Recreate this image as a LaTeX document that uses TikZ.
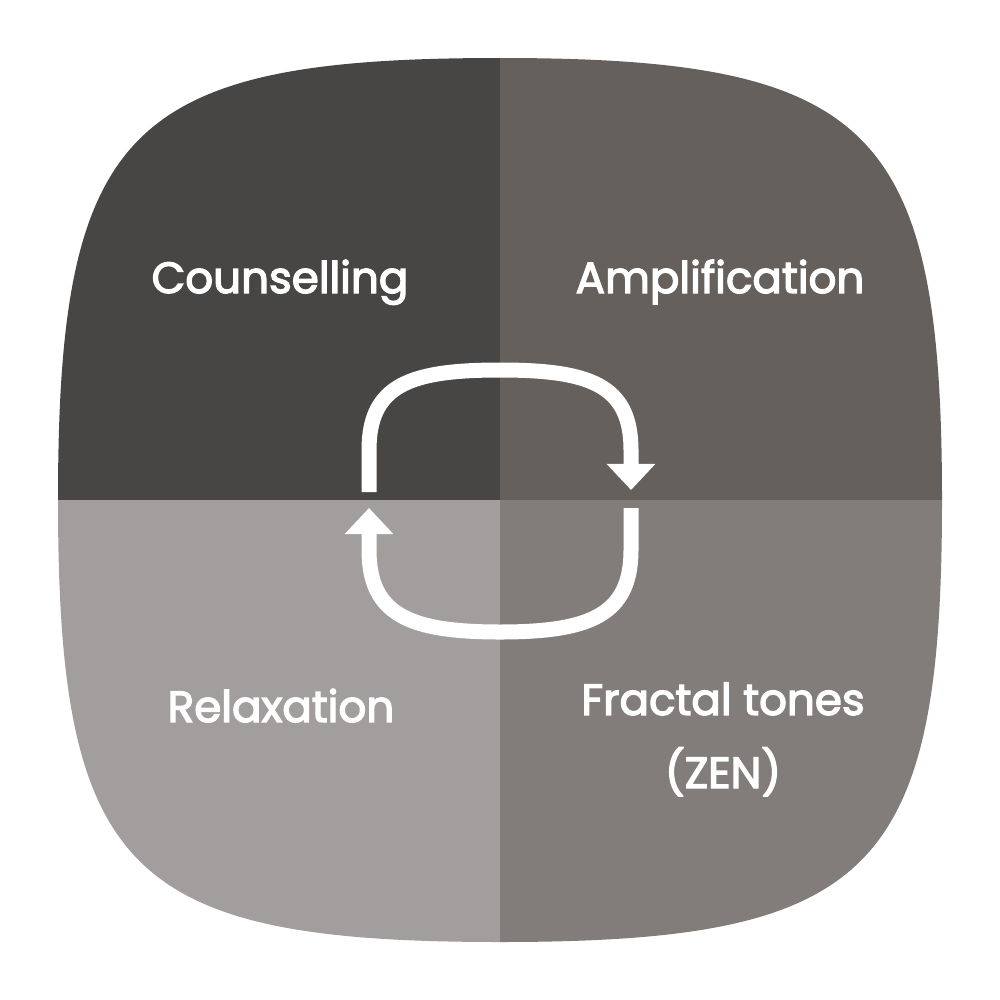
\documentclass[tikz,border=0pt]{standalone}
\usepackage{fontspec}
\setmainfont{Poppins}
\newfontfamily\lblfont{Poppins}[FakeBold=3]
\usetikzlibrary{arrows.meta}
\definecolor{qtl}{HTML}{484644}
\definecolor{qtr}{HTML}{65605C}
\definecolor{qbl}{HTML}{A29E9D}
\definecolor{qbr}{HTML}{827D7A}
\tikzset{
  lbl/.style={text=white, font=\lblfont\fontsize{12.4}{20.8}\selectfont, anchor=base, align=center, inner sep=0pt},
  loop/.style={draw=white, line width=0.15cm, -{Triangle[width=0.47cm,length=0.26cm]}}
}
\begin{document}
\begin{tikzpicture}[x=0.01cm,y=-0.01cm]
\useasboundingbox (0,0) rectangle (1000,1000);
\begin{scope}
\clip (942,500) .. controls (942,872.6) and (872.6,942) .. (500,942)
      .. controls (127.4,942) and (58,872.6) .. (58,500)
      .. controls (58,127.4) and (127.4,58) .. (500,58)
      .. controls (872.6,58) and (942,127.4) .. (942,500) -- cycle;
\fill[qtl] (0,0) rectangle (500,500);
\fill[qtr] (500,0) rectangle (1000,500);
\fill[qbl] (0,500) rectangle (500,1000);
\fill[qbr] (500,500) rectangle (1000,1000);
\end{scope}
\coordinate (a1) at (369,492);
\coordinate (a2) at (631,490);
\coordinate (b1) at (631,508);
\coordinate (b2) at (369,508);
\draw[loop] (a1) -- (369,450) .. controls (369,385) and (410,370) .. (500,370)
  .. controls (590,370) and (631,385) .. (631,450) -- (a2);
\draw[loop] (b1) -- (631,550) .. controls (631,615) and (590,632) .. (500,632)
  .. controls (410,632) and (369,615) .. (369,550) -- (b2);
\node[lbl] (c) at (280,293) {Counselling};
\node[lbl] (am) at (720,293) {Amplification};
\node[lbl] (r) at (281,722) {Relaxation};
\node[lbl] (f) at (723,788) {Fractal tones\\(ZEN)};
\end{tikzpicture}
\end{document}
